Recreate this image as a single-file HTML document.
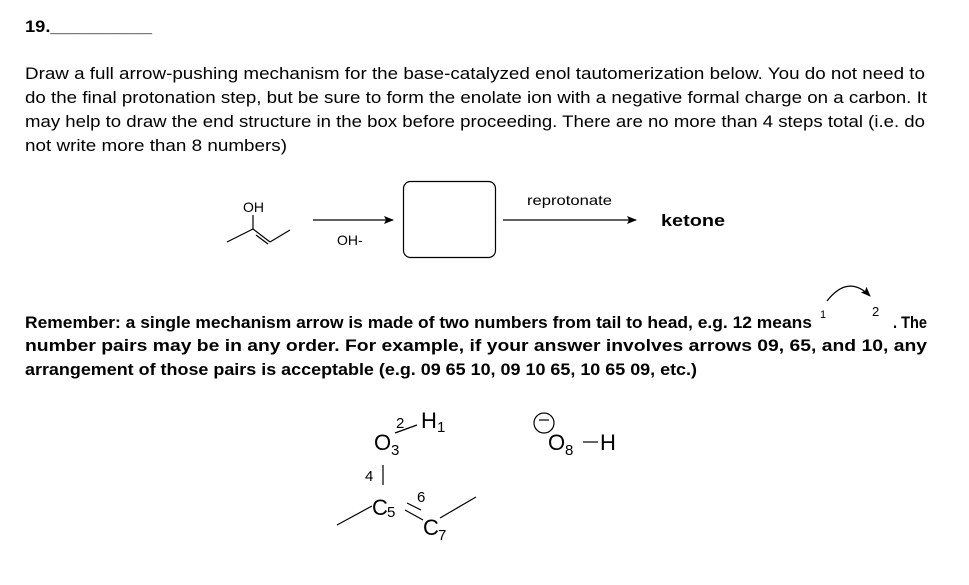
<!DOCTYPE html>
<html><head><meta charset="utf-8"><style>
html,body{margin:0;padding:0;background:#fff;}
svg{display:block;}
.t{font-family:"Liberation Sans",sans-serif;font-size:16.5px;fill:#000;}
.b{font-weight:bold;}
.c{font-family:"Liberation Sans",sans-serif;fill:#000;}
</style></head><body>
<svg width="969" height="585" viewBox="0 0 969 585" xmlns="http://www.w3.org/2000/svg">
<defs><marker id="ah" markerWidth="10" markerHeight="8" refX="9" refY="4" orient="auto" markerUnits="userSpaceOnUse"><path d="M0,0 L10,4 L0,8 L2,4 z" fill="#000"/></marker></defs>
<text class="t b" x="25" y="32" textLength="127" lengthAdjust="spacingAndGlyphs">19.__________</text>
<text class="t" x="25" y="79" textLength="900" lengthAdjust="spacingAndGlyphs">Draw a full arrow-pushing mechanism for the base-catalyzed enol tautomerization below.  You do not need to</text>
<text class="t" x="25" y="103" textLength="902" lengthAdjust="spacingAndGlyphs">do the final protonation step, but be sure to form the enolate ion with a negative formal charge on a carbon.  It</text>
<text class="t" x="25" y="127" textLength="900" lengthAdjust="spacingAndGlyphs">may help to draw the end structure in the box before proceeding.  There are no more than 4 steps total (i.e. do</text>
<text class="t" x="25" y="151" textLength="262" lengthAdjust="spacingAndGlyphs">not write more than 8 numbers)</text>

<!-- enol -->
<text class="c" x="243" y="212" font-size="14">OH</text>
<g stroke="#000" stroke-width="1.2" fill="none">
<line x1="227" y1="242" x2="253" y2="229"/>
<line x1="253" y1="229" x2="270" y2="242"/>
<line x1="256" y1="235" x2="268" y2="244"/>
<line x1="270" y1="242" x2="290" y2="230"/>
<line x1="253" y1="229" x2="253" y2="215"/>
<line x1="313" y1="220" x2="393" y2="220" marker-end="url(#ah)"/>
<rect x="403.5" y="181.5" width="92" height="76" rx="7"/>
<line x1="503" y1="220" x2="636" y2="220" marker-end="url(#ah)"/>
<path d="M827,301 Q848,274 870,296" marker-end="url(#ah)"/>
</g>
<text class="c" x="337" y="245" font-size="14">OH-</text>
<text class="c" x="527" y="205" font-size="14" textLength="85" lengthAdjust="spacingAndGlyphs">reprotonate</text>
<text class="c b" x="661" y="226" font-size="17" textLength="64" lengthAdjust="spacingAndGlyphs">ketone</text>

<text class="t b" x="25" y="328" textLength="787" lengthAdjust="spacingAndGlyphs">Remember: a single mechanism arrow is made of two numbers from tail to head, e.g. 12 means</text>
<text class="c" x="820" y="318" font-size="11">1</text>
<text class="c" x="872" y="316" font-size="13">2</text>
<text class="t b" x="893" y="328" textLength="34" lengthAdjust="spacingAndGlyphs">. The</text>
<text class="t b" x="25" y="351" textLength="902" lengthAdjust="spacingAndGlyphs">number pairs may be in any order.  For example, if your answer involves arrows 09, 65, and 10, any</text>
<text class="t b" x="25" y="375" textLength="672" lengthAdjust="spacingAndGlyphs">arrangement of those pairs is acceptable (e.g. 09 65 10, 09 10 65, 10 65 09, etc.)</text>

<!-- numbered molecule -->
<g stroke="#000" stroke-width="1.2" fill="none">
<line x1="395" y1="433" x2="417" y2="425"/>
<line x1="383" y1="465" x2="383" y2="485"/>
<line x1="337" y1="525" x2="372" y2="506"/>
<line x1="405" y1="510" x2="423" y2="520"/>
<line x1="407" y1="503" x2="421" y2="510"/>
<line x1="440" y1="518" x2="476" y2="497"/>
<circle cx="544" cy="423" r="10"/>
<line x1="539" y1="420" x2="549" y2="420"/>
<line x1="583" y1="442" x2="598" y2="442"/>
</g>
<g class="c">
<text x="396" y="428" font-size="15">2</text>
<text x="421" y="428" font-size="22">H</text>
<text x="437" y="432" font-size="15">1</text>
<text x="374" y="450" font-size="22">O</text>
<text x="391" y="455" font-size="15">3</text>
<text x="365" y="481" font-size="15">4</text>
<text x="372" y="515" font-size="22">C</text>
<text x="387" y="517" font-size="15">5</text>
<text x="417" y="502" font-size="15">6</text>
<text x="423" y="535" font-size="22">C</text>
<text x="438" y="540" font-size="15">7</text>
<text x="548" y="450" font-size="22">O</text>
<text x="565" y="455" font-size="15">8</text>
<text x="600" y="450" font-size="22">H</text>
</g>
</svg>
</body></html>
